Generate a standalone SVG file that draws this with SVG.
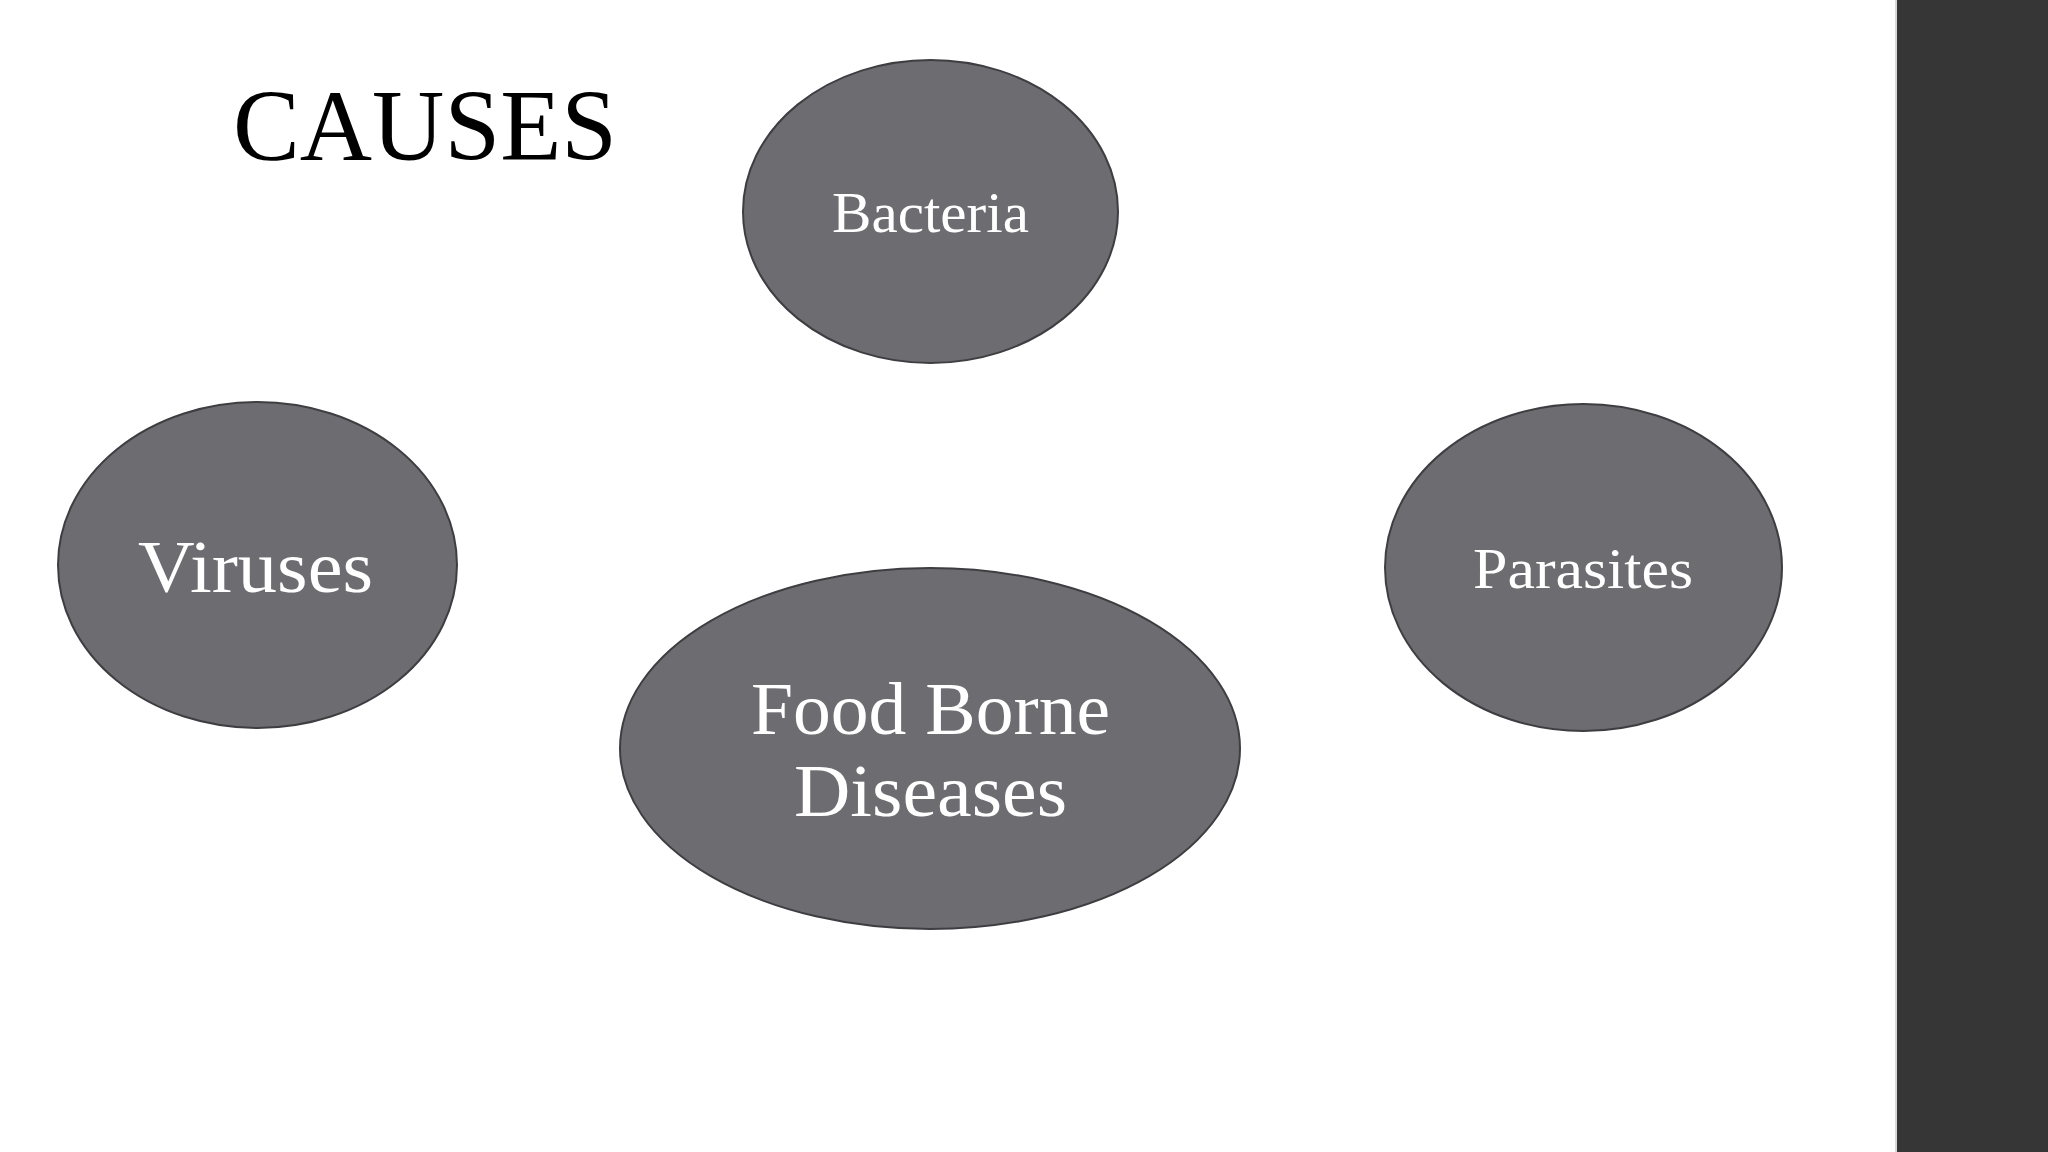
<svg xmlns="http://www.w3.org/2000/svg" width="2048" height="1152" viewBox="0 0 2048 1152">
  <style>
    .node { fill: #6d6c71; stroke: #3e3e42; stroke-width: 2; }
    .label { font-family: "Liberation Serif", "Times New Roman", serif; fill: #ffffff; text-anchor: middle; }
    .title { font-family: "Liberation Serif", "Times New Roman", serif; fill: #000000; }
  </style>
  <rect x="0" y="0" width="2048" height="1152" fill="#ffffff"/>
  <rect x="1895" y="0" width="2" height="1152" fill="#d8d8d8"/>
  <rect x="1897" y="0" width="151" height="1152" fill="#363637"/>
  <text class="title" x="233" y="160" font-size="102" textLength="384" lengthAdjust="spacingAndGlyphs">CAUSES</text>
  <g id="connectors"></g>
  <g id="node-bacteria">
    <ellipse class="node" cx="930.5" cy="211.5" rx="187.5" ry="151.5"/>
    <text class="label" x="930.5" y="232" font-size="57" textLength="197" lengthAdjust="spacingAndGlyphs">Bacteria</text>
  </g>
  <g id="node-viruses">
    <ellipse class="node" cx="257.5" cy="565" rx="199.5" ry="163"/>
    <text class="label" x="255.5" y="592" font-size="75" textLength="235" lengthAdjust="spacingAndGlyphs">Viruses</text>
  </g>
  <g id="node-parasites">
    <ellipse class="node" cx="1583.5" cy="567.5" rx="198.5" ry="163.5"/>
    <text class="label" x="1583" y="588" font-size="57" textLength="220" lengthAdjust="spacingAndGlyphs">Parasites</text>
  </g>
  <g id="node-foodborne">
    <ellipse class="node" cx="930" cy="748.5" rx="310" ry="180.5"/>
    <text class="label" x="930.5" y="734" font-size="74" textLength="359" lengthAdjust="spacingAndGlyphs">Food Borne</text>
    <text class="label" x="930.5" y="816" font-size="74" textLength="273" lengthAdjust="spacingAndGlyphs">Diseases</text>
  </g>
</svg>
